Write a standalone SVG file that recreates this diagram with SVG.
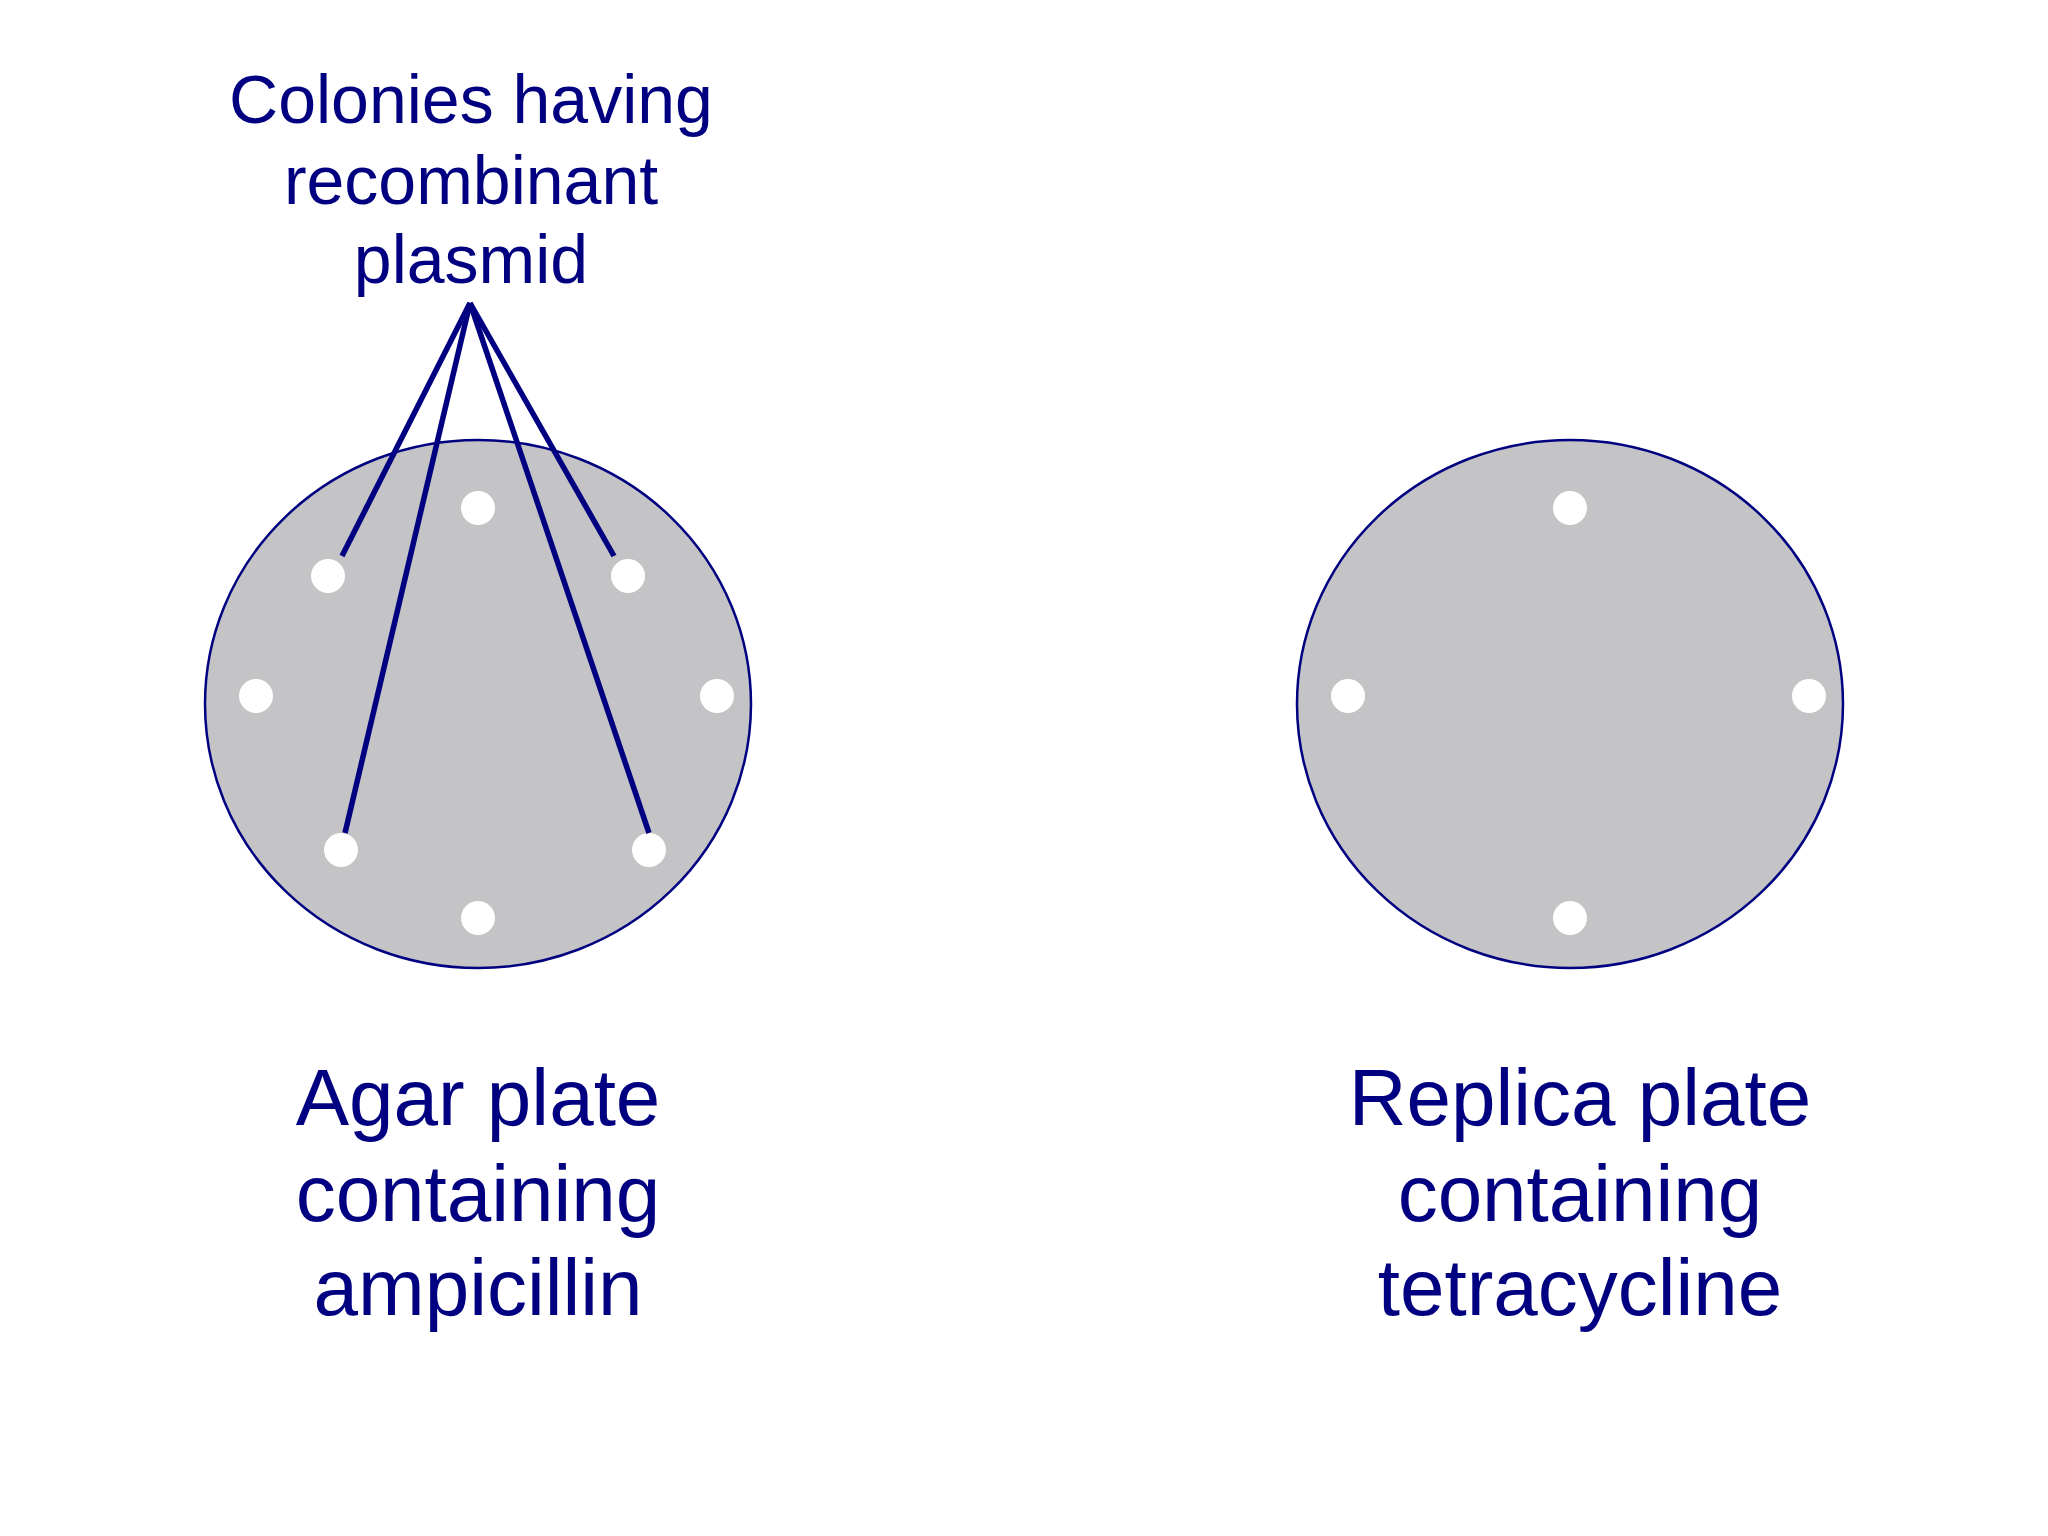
<svg xmlns="http://www.w3.org/2000/svg" width="2048" height="1536" viewBox="0 0 2048 1536">
<style>
.plate{fill:#c4c4c6;stroke:#000080;stroke-width:2.5}
.col{fill:#ffffff}
.lbl{font-family:"Liberation Sans",Arial,sans-serif;fill:#000080;text-anchor:middle}
.big{font-size:80px}
.small{font-size:68px}
.conn{stroke:#000080;stroke-width:5.5;fill:none;stroke-linecap:butt}
</style>
<rect width="2048" height="1536" fill="#ffffff"/>
<g id="agar-plate">
<ellipse class="plate" cx="478" cy="704" rx="273" ry="264"/>
<circle class="col" cx="478" cy="508" r="17"/>
<circle class="col" cx="328" cy="576" r="17"/>
<circle class="col" cx="628" cy="576" r="17"/>
<circle class="col" cx="256" cy="696" r="17"/>
<circle class="col" cx="717" cy="696" r="17"/>
<circle class="col" cx="341" cy="850" r="17"/>
<circle class="col" cx="649" cy="850" r="17"/>
<circle class="col" cx="478" cy="918" r="17"/>
</g>
<g id="replica-plate">
<ellipse class="plate" cx="1570" cy="704" rx="273" ry="264"/>
<circle class="col" cx="1570" cy="508" r="17"/>
<circle class="col" cx="1348" cy="696" r="17"/>
<circle class="col" cx="1809" cy="696" r="17"/>
<circle class="col" cx="1570" cy="918" r="17"/>
</g>
<g id="colonies-label">
<text class="lbl small" x="471" y="123">Colonies having</text>
<text class="lbl small" x="471" y="204">recombinant</text>
<text class="lbl small" x="471" y="283">plasmid</text>
</g>
<g id="agar-label">
<text class="lbl big" x="478" y="1125">Agar plate</text>
<text class="lbl big" x="478" y="1221">containing</text>
<text class="lbl big" x="478" y="1315">ampicillin</text>
</g>
<g id="replica-label">
<text class="lbl big" x="1580" y="1125">Replica plate</text>
<text class="lbl big" x="1580" y="1221">containing</text>
<text class="lbl big" x="1580" y="1315">tetracycline</text>
</g>
<g id="connectors">
<line class="conn" x1="470" y1="303" x2="342" y2="556"/>
<line class="conn" x1="470" y1="303" x2="345" y2="833"/>
<line class="conn" x1="470" y1="303" x2="649" y2="833"/>
<line class="conn" x1="470" y1="303" x2="614" y2="556"/>
</g>
</svg>
